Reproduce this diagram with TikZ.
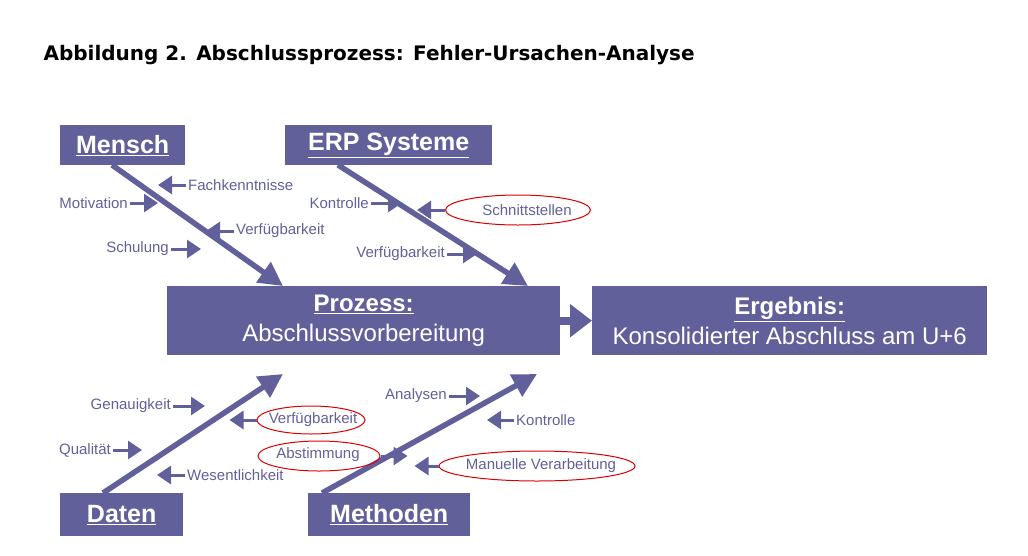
\documentclass[tikz,border=0pt]{standalone}
\usepackage{fontspec}
\setmainfont{Liberation Sans}
\newfontfamily\titlefont{DejaVu Sans}
\usetikzlibrary{arrows.meta,shapes.geometric}
\definecolor{fb}{HTML}{62609A}
\begin{document}
\begin{tikzpicture}[x=1pt,y=-1pt,
  box/.style={fill=fb,text=white,inner sep=0pt,anchor=north west},
  big/.style={fb,line width=5.5pt,-{Triangle[length=24pt,width=24pt]}},
  sm/.style={fb,line width=3pt,-{Triangle[length=14pt,width=18pt]}},
  lab/.style={text=fb,font=\fontsize{15}{17}\selectfont,inner sep=2pt},
  ell/.style={draw=red!85!black,ellipse,line width=1pt},
  ttl/.style={font=\fontsize{25}{30}\selectfont\bfseries}]
\useasboundingbox (0,0) rectangle (1028,555);
\node[anchor=west,font=\titlefont\bfseries\fontsize{20}{24}\selectfont] (title) at (40,55) {Abbildung 2. Abschlussprozess: Fehler-Ursachen-Analyse};
% boxes
\node[box,minimum width=125pt,minimum height=40pt] (mensch) at (60,125) {};
\node[ttl,text=white] at (mensch.center) {\underline{Mensch}};
\node[box,minimum width=207pt,minimum height=40pt] (erp) at (285,125) {};
\node[ttl,text=white] at (erp.center) {\underline{ERP Systeme\vphantom{g}}};
\node[box,minimum width=123pt,minimum height=43pt] (daten) at (60,493) {};
\node[ttl,text=white] at (daten.center) {\underline{Daten}};
\node[box,minimum width=162pt,minimum height=43pt] (meth) at (308,493) {};
\node[ttl,text=white] at (meth.center) {\underline{Methoden}};
\node[box,minimum width=393pt,minimum height=69pt] (proz) at (167,286) {};
\node[text=white,align=center,font=\fontsize{24}{30}\selectfont] at (proz.center) {{\bfseries\underline{Prozess:}}\\Abschlussvorbereitung};
\node[box,minimum width=395pt,minimum height=69pt] (erg) at (592,286) {};
\node[text=white,align=center,font=\fontsize{24}{30}\selectfont] at (erg.center) {{\bfseries\underline{Ergebnis:}}\\Konsolidierter Abschluss am U+6};
\draw[fb,line width=8pt,-{Triangle[length=22pt,width=32pt]}] (proz.east) -- (erg.west);
% main bones
\coordinate (m1) at (112,165); \coordinate (m2) at (283,286);
\coordinate (e1) at (338,165); \coordinate (e2) at (528,286);
\coordinate (d1) at (103,493); \coordinate (d2) at (283,374);
\coordinate (t1) at (322,493); \coordinate (t2) at (537,374);
\draw[big] (m1) -- (m2);
\draw[big] (e1) -- (e2);
\draw[big] (d1) -- (d2);
\draw[big] (t1) -- (t2);
% Mensch
\node[lab,anchor=west] (fk) at (186,185) {Fachkenntnisse};
\draw[sm] (fk.west) -- ++(-28,0);
\node[lab,anchor=east] (mo) at (130,203) {Motivation};
\draw[sm] (mo.east) -- ++(28,0);
\node[lab,anchor=west] (vm) at (234,231) {Verfügbarkeit};
\draw[sm] (vm.west) -- ++(-28,0);
\node[lab,anchor=east] (sch) at (171,249) {Schulung};
\draw[sm] (sch.east) -- ++(30,0);
% ERP
\node[lab,anchor=east] (ko) at (371,203) {Kontrolle};
\draw[sm] (ko.east) -- ++(31,0);
\node[lab] (sst) at (527,210) {Schnittstellen};
\node[ell,minimum width=145pt,minimum height=30pt] (sste) at (518,210) {};
\draw[sm] (sste.west) -- ++(-28,0);
\node[lab,anchor=east] (ve) at (447,254) {Verfügbarkeit};
\draw[sm] (ve.east) -- ++(30,0);
% Daten
\node[lab,anchor=east] (ge) at (173,406) {Genauigkeit};
\draw[sm] (ge.east) -- ++(32,0);
\node[lab] (vd) at (313,420) {Verfügbarkeit};
\node[ell,minimum width=108pt,minimum height=28pt] (vde) at (311,420) {};
\draw[sm] (vde.west) -- ++(-27,0);
\node[lab,anchor=east] (qu) at (113,450) {Qualität};
\draw[sm] (qu.east) -- ++(29,0);
\node[lab] (ab) at (318,455) {Abstimmung};
\node[ell,minimum width=122pt,minimum height=30pt] (abe) at (319,456) {};
\draw[sm] (abe.east) -- ++(27,0);
\node[lab,anchor=west] (we) at (185,475) {Wesentlichkeit};
\draw[sm] (we.west) -- ++(-28,0);
% Methoden
\node[lab,anchor=east] (an) at (449,396) {Analysen};
\draw[sm] (an.east) -- ++(31,0);
\node[lab,anchor=west] (kt) at (514,420) {Kontrolle};
\draw[sm] (kt.west) -- ++(-27,0);
\node[lab] (mv) at (541,466) {Manuelle Verarbeitung};
\node[ell,minimum width=196pt,minimum height=30pt] (mve) at (537,466) {};
\draw[sm] (mve.west) -- ++(-24,0);
\end{tikzpicture}
\end{document}
